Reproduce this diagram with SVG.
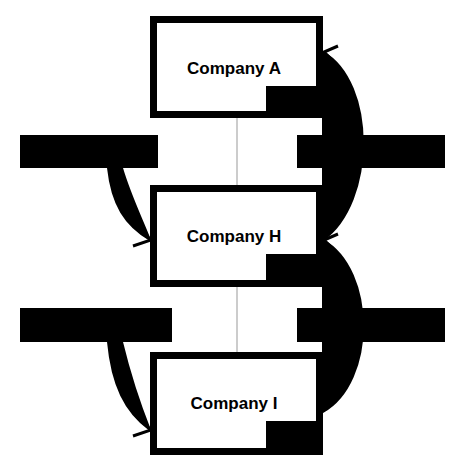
<svg xmlns="http://www.w3.org/2000/svg" width="474" height="474" viewBox="0 0 474 474">
<style>
.box{fill:#fff;stroke:#000;stroke-width:7}
.tag{fill:#000}
.lbl{font-family:"Liberation Sans",Arial,sans-serif;font-size:17px;font-weight:bold;fill:#000;text-anchor:middle}
.conn{fill:#000;stroke:#000;stroke-width:2}
.arr{fill:none;stroke:#000;stroke-width:3}
.link{stroke:#999;stroke-width:1}
.bar{fill:#000}
</style>
<rect width="474" height="474" fill="#fff"/>
<g id="links">
<line class="link" x1="237" y1="118" x2="237" y2="185"/>
<line class="link" x1="237" y1="287" x2="237" y2="352"/>
</g>
<g id="nodeA">
<rect class="box" x="153.5" y="19.5" width="166" height="95"/>
<rect class="tag" x="266" y="86" width="57" height="32"/>
<text class="lbl" x="234" y="74">Company A</text>
</g>
<g id="nodeH">
<rect class="box" x="153.5" y="188.5" width="166" height="95"/>
<rect class="tag" x="266" y="254" width="57" height="33"/>
<text class="lbl" x="234" y="242">Company H</text>
</g>
<g id="nodeI">
<rect class="box" x="153.5" y="355.5" width="166" height="96"/>
<rect class="tag" x="266" y="421" width="57" height="34"/>
<text class="lbl" x="234" y="409">Company I</text>
</g>
<g id="connectors">
<path class="conn" d="M323,52 C376,82 376,202 323,240 Z"/>
<path class="conn" d="M323,240 C376,270 376,382 323,412 Z"/>
<path class="conn" d="M108,168 C112,205 125,225 150,240 C140,215 130,195 122,168 Z"/>
<path class="conn" d="M108,342 C112,385 125,412 150,430 C140,405 130,375 122,342 Z"/>
<polyline class="arr" points="338,46 324,52 334,62"/>
<polyline class="arr" points="338,234 324,240 334,250"/>
<polyline class="arr" points="138,228 151,240 133,246"/>
<polyline class="arr" points="138,418 151,430 133,436"/>
</g>
<g id="edgeLabels">
<rect class="bar" x="20" y="135" width="138" height="33"/>
<rect class="bar" x="297" y="135" width="148" height="33"/>
<rect class="bar" x="20" y="308" width="152" height="34"/>
<rect class="bar" x="297" y="308" width="148" height="34"/>
</g>
</svg>
